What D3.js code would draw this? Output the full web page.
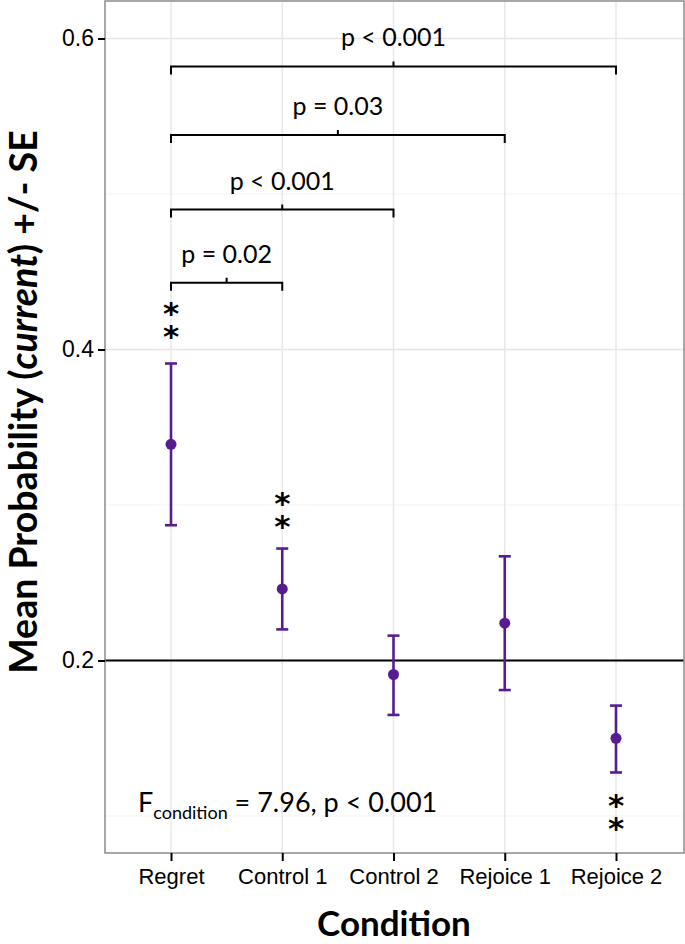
<!DOCTYPE html>
<html>
<head>
<meta charset="utf-8">
<script src="https://cdn.jsdelivr.net/npm/d3@7"></script>
<style>
  body { margin: 0; background: #fff; }
  svg { display: block; }
</style>
</head>
<body>
<svg id="chart" width="685" height="944"></svg>
<script>
// values
const conditions = ['Regret', 'Control 1', 'Control 2', 'Rejoice 1', 'Rejoice 2'];
const means = [0.339, 0.246, 0.191, 0.224, 0.150];
const lower = [0.287, 0.220, 0.165, 0.181, 0.128];
const upper = [0.391, 0.272, 0.216, 0.267, 0.171];
const yTicks = [0.2, 0.4, 0.6];
const yMinor = [0.1, 0.3, 0.5];
const refLine = 0.2;

// significance brackets: from, to, label, level
const bracketFrom = ['Regret', 'Regret', 'Regret', 'Regret'];
const bracketTo = ['Rejoice 2', 'Rejoice 1', 'Control 2', 'Control 1'];
const bracketLabel = ['p < 0.001', 'p = 0.03', 'p < 0.001', 'p = 0.02'];
const bracketLevel = [0.582, 0.538, 0.490, 0.443];

// double asterisks: condition and centre value
const starCond = ['Regret', 'Control 1', 'Rejoice 2'];
const starValue = [0.4175, 0.295, 0.101];

const svg = d3.select('#chart');
const panel = { left: 105, top: 1, right: 684, bottom: 853 };
const purple = '#561d93';
const calibriLike = 'Lato, "Open Sans", sans-serif';
const arialLike = '"Liberation Sans", Arial, sans-serif';

const y = d3.scaleLinear()
  .domain([0.2, 0.6])
  .range([660.5, 38.5]);

const x = d3.scalePoint()
  .domain(conditions)
  .range([171, 616]);

const g = svg.append('g');

// grid
g.selectAll('.minor').data(yMinor).enter().append('line')
  .attr('x1', panel.left).attr('x2', panel.right)
  .attr('y1', d => y(d)).attr('y2', d => y(d))
  .attr('stroke', '#f3f3f3').attr('stroke-width', 1);

g.selectAll('.gridy').data(yTicks).enter().append('line')
  .attr('x1', panel.left).attr('x2', panel.right)
  .attr('y1', d => y(d)).attr('y2', d => y(d))
  .attr('stroke', '#e6e6e6').attr('stroke-width', 1.5);

g.selectAll('.gridx').data(conditions).enter().append('line')
  .attr('x1', d => x(d)).attr('x2', d => x(d))
  .attr('y1', panel.top).attr('y2', panel.bottom)
  .attr('stroke', '#e8e8e8').attr('stroke-width', 1.5);

// reference line
g.append('line')
  .attr('x1', panel.left).attr('x2', panel.right)
  .attr('y1', y(refLine)).attr('y2', y(refLine))
  .attr('stroke', '#000').attr('stroke-width', 2.2);

// error bars
const bars = g.append('g');
conditions.forEach((c, i) => {
  const cx = x(c);
  bars.append('line')
    .attr('x1', cx).attr('x2', cx)
    .attr('y1', y(lower[i])).attr('y2', y(upper[i]))
    .attr('stroke', purple).attr('stroke-width', 2.6);
  [lower[i], upper[i]].forEach(v => {
    bars.append('line')
      .attr('x1', cx - 6).attr('x2', cx + 6)
      .attr('y1', y(v)).attr('y2', y(v))
      .attr('stroke', purple).attr('stroke-width', 2.6);
  });
  bars.append('circle')
    .attr('cx', cx).attr('cy', y(means[i])).attr('r', 5.5)
    .attr('fill', purple);
});

// brackets
const br = g.append('g');
bracketLabel.forEach((lab, i) => {
  const x1 = x(bracketFrom[i]), x2 = x(bracketTo[i]);
  const yy = y(bracketLevel[i]);
  const mid = (x1 + x2) / 2;
  br.append('path')
    .attr('d', `M${x1},${yy + 8}V${yy}H${x2}V${yy + 8}M${mid},${yy}V${yy - 5}`)
    .attr('fill', 'none').attr('stroke', '#000').attr('stroke-width', 2);
  br.append('text')
    .attr('x', mid).attr('y', yy - 20)
    .attr('text-anchor', 'middle')
    .attr('font-family', calibriLike)
    .attr('font-size', 25)
    .text(lab);
});

// asterisks, two stacked in one text
starCond.forEach((c, i) => {
  const cy = y(starValue[i]);
  const t = g.append('text')
    .attr('x', x(c)).attr('y', cy + 1.5)
    .attr('text-anchor', 'middle')
    .attr('font-family', '"DejaVu Sans", sans-serif')
    .attr('font-weight', 'bold')
    .attr('font-size', 31);
  t.append('tspan').attr('x', x(c)).text('*');
  t.append('tspan').attr('x', x(c)).attr('dy', 23).text('*');
});

// F statistic
const ft = g.append('text')
  .attr('x', 138).attr('y', 812)
  .attr('font-family', calibriLike)
  .attr('font-size', 27);
ft.append('tspan').text('F');
ft.append('tspan').attr('font-size', 18).attr('dy', 7).text('condition');
ft.append('tspan').attr('dy', -7).text(' = 7.96, p < 0.001');

// panel border
g.append('rect')
  .attr('x', panel.left).attr('y', panel.top)
  .attr('width', panel.right - panel.left).attr('height', panel.bottom - panel.top)
  .attr('fill', 'none').attr('stroke', '#8c8c8c').attr('stroke-width', 1.5);

// axes
const yAxis = g.append('g')
  .attr('transform', `translate(${panel.left},0)`)
  .call(d3.axisLeft(y).tickValues(yTicks).tickFormat(d3.format('.1f')).tickSize(7).tickPadding(4));
yAxis.select('.domain').remove();
yAxis.selectAll('text')
  .attr('font-family', arialLike)
  .attr('font-size', 23).attr('fill', '#000');
yAxis.selectAll('line').attr('stroke', '#000').attr('stroke-width', 2);

const xAxis = g.append('g')
  .attr('transform', `translate(0,${panel.bottom})`)
  .call(d3.axisBottom(x).tickSize(8).tickPadding(7));
xAxis.select('.domain').remove();
xAxis.selectAll('text')
  .attr('font-family', arialLike)
  .attr('font-size', 22).attr('fill', '#000');
xAxis.selectAll('line').attr('stroke', '#000').attr('stroke-width', 2);

// axis titles
g.append('text')
  .attr('x', 394).attr('y', 936)
  .attr('text-anchor', 'middle')
  .attr('font-family', calibriLike)
  .attr('font-weight', 'bold')
  .attr('font-size', 35)
  .text('Condition');

const yt = g.append('text')
  .attr('transform', 'translate(37,402) rotate(-90)')
  .attr('text-anchor', 'middle')
  .attr('font-family', calibriLike)
  .attr('font-weight', 'bold')
  .attr('font-size', 37.5);
yt.append('tspan').text('Mean Probability (');
yt.append('tspan').attr('font-style', 'italic').text('current');
yt.append('tspan').text(') +/- SE');
</script>
</body>
</html>
